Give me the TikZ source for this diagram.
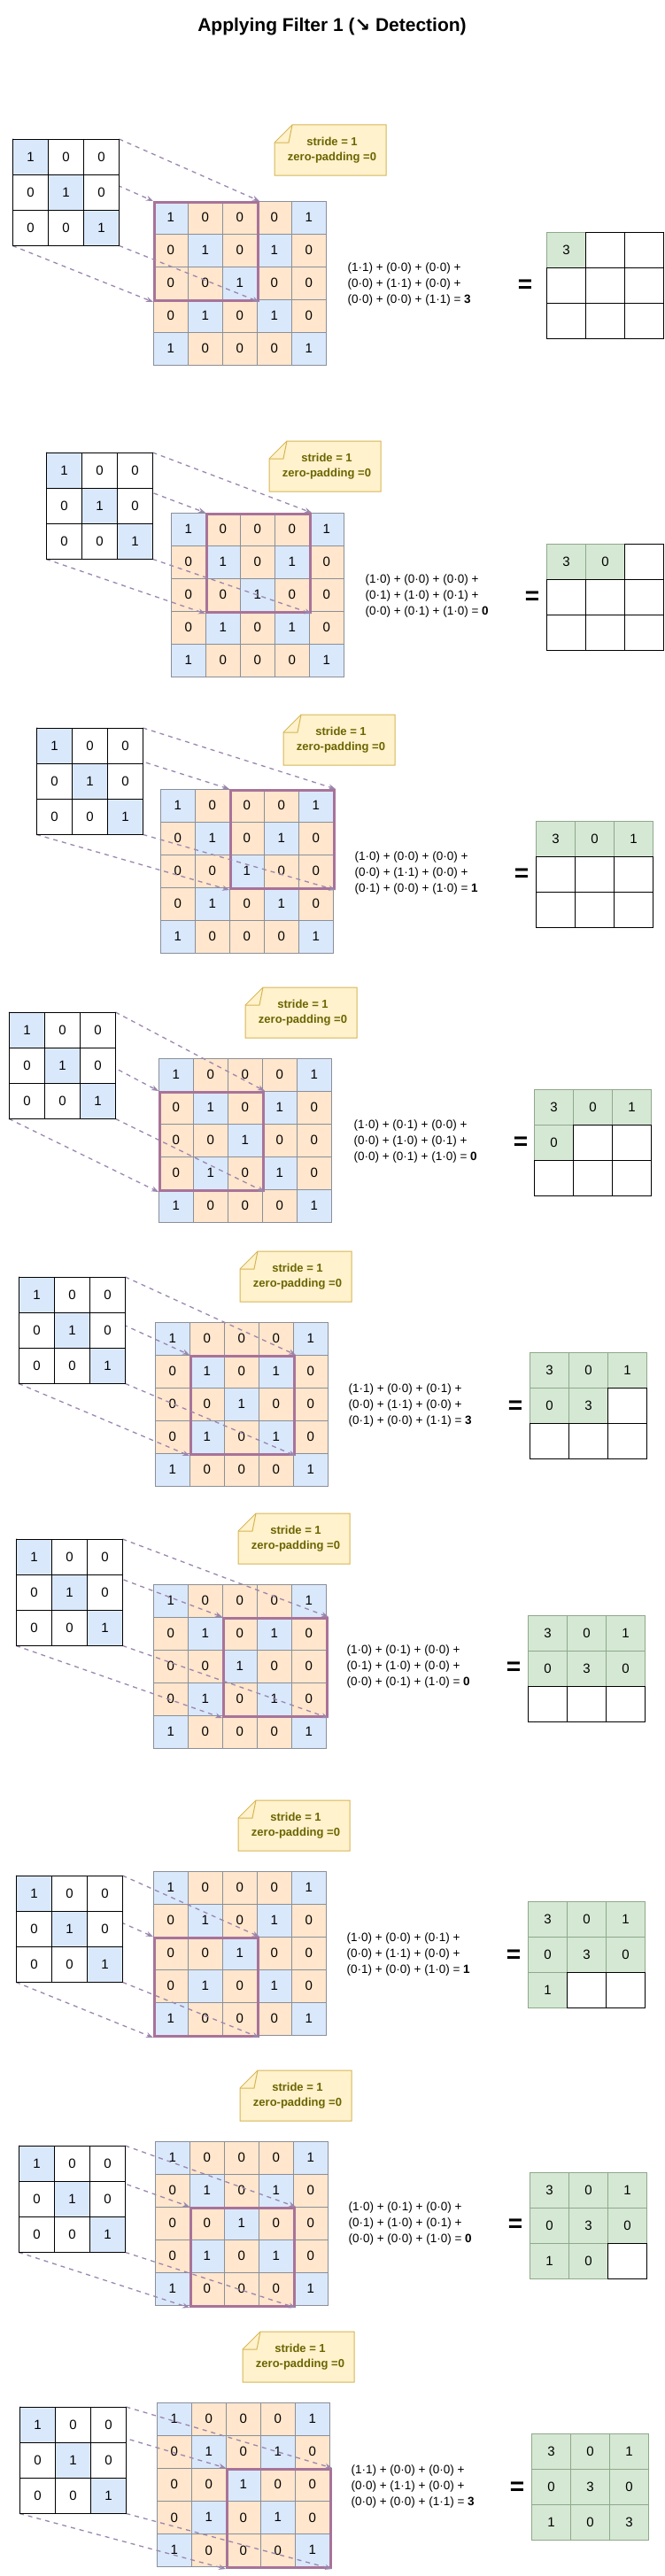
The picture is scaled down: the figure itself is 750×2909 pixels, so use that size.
\documentclass[tikz,border=0pt]{standalone}
\usepackage{fontspec}
\setmainfont{Liberation Sans}
\newfontfamily\arrfont{DejaVu Sans}
\usetikzlibrary{arrows.meta}
\definecolor{cblue}{HTML}{DAE8FC}
\definecolor{corange}{HTML}{FFE6CC}
\definecolor{cgreen}{HTML}{D5E8D4}
\definecolor{cgreenb}{HTML}{8FA88A}
\definecolor{cnote}{HTML}{FFF2CC}
\definecolor{cnoteb}{HTML}{D6B656}
\definecolor{cnotet}{HTML}{6B6400}
\definecolor{cconn}{HTML}{9A87AE}
\definecolor{chl}{HTML}{A87399}
\definecolor{cgrid}{HTML}{8A8F99}
\begin{document}
\begin{tikzpicture}[x=1pt,y=-1pt,
  incell/.style={draw=cgrid, line width=0.6pt, minimum width=39pt, minimum height=37pt, inner sep=0pt, anchor=north west, font=\fontsize{15}{15}\selectfont},
  fcell/.style={draw=black, line width=1pt, minimum width=40pt, minimum height=40pt, inner sep=0pt, anchor=north west, font=\fontsize{15}{15}\selectfont},
  ocell/.style={line width=1pt, minimum width=44pt, minimum height=40pt, inner sep=0pt, anchor=north west, font=\fontsize{15}{15}\selectfont},
  hl/.style={draw=chl, line width=3pt, minimum width=117pt, minimum height=111pt, inner sep=0pt, anchor=north west},
  conn/.style={draw=cconn, line width=1.3pt, dash pattern=on 5pt off 5pt, -{Stealth[length=8pt,width=6pt,fill=cconn!80!black]}},
  note/.style={fill=cnote, draw=cnoteb, line width=1pt},
  notetext/.style={text=cnotet, font=\bfseries\fontsize{13}{17}\selectfont, align=center},
  formula/.style={anchor=west, align=left, font=\fontsize{13.5}{18}\selectfont},
  eq/.style={font=\bfseries\fontsize{28}{28}\selectfont}
]
\useasboundingbox (0,0) rectangle (750,2909);
\node[font=\bfseries\fontsize{21}{21}\selectfont] (title) at (375,30) {Applying Filter 1 ({\arrfont ↘} Detection)};
\foreach \fx/\fy/\ix/\iy/\nx/\ny/\tx/\ty/\ex/\ey/\ox/\oy/\hr/\hc/\n/\fa/\fb/\fc/\res in {
 14/157/173/227/310/141/392/303/583/323/617/262/0/0/1/{(1·1) + (0·0) + (0·0) +}/{(0·0) + (1·1) + (0·0) +}/{(0·0) + (0·0) + (1·1) = }/3,
 52/511/193/579/304/498/412/655/591/675/617/614/0/1/2/{(1·0) + (0·0) + (0·0) +}/{(0·1) + (1·0) + (0·1) +}/{(0·0) + (0·1) + (1·0) = }/0,
 41/822/181/891/320/807/400/968/579/988/605/927/0/2/3/{(1·0) + (0·0) + (0·0) +}/{(0·0) + (1·1) + (0·0) +}/{(0·1) + (0·0) + (1·0) = }/1,
 10/1143/179/1195/277/1115/399/1271/578/1291/603/1230/1/0/4/{(1·0) + (0·1) + (0·0) +}/{(0·0) + (1·0) + (0·1) +}/{(0·0) + (0·1) + (1·0) = }/0,
 21/1442/175/1493/271/1413/393/1569/572/1589/598/1527/1/1/5/{(1·1) + (0·0) + (0·1) +}/{(0·0) + (1·1) + (0·0) +}/{(0·1) + (0·0) + (1·1) = }/3,
 18/1738/173/1789/269/1709/391/1864/570/1884/596/1824/1/2/6/{(1·0) + (0·1) + (0·0) +}/{(0·1) + (1·0) + (0·0) +}/{(0·0) + (0·1) + (1·0) = }/0,
 18/2118/173/2113/269/2033/391/2189/570/2209/596/2147/2/0/7/{(1·0) + (0·0) + (0·1) +}/{(0·0) + (1·1) + (0·0) +}/{(0·1) + (0·0) + (1·0) = }/1,
 21/2423/175/2418/271/2338/393/2493/572/2513/598/2453/2/1/8/{(1·0) + (0·1) + (0·0) +}/{(0·1) + (1·0) + (0·1) +}/{(0·0) + (0·0) + (1·0) = }/0,
 22/2718/177/2713/274/2633/396/2790/574/2810/600/2748/2/2/9/{(1·1) + (0·0) + (0·0) +}/{(0·0) + (1·1) + (0·0) +}/{(0·0) + (0·0) + (1·1) = }/3}
{
  \foreach \r in {0,...,4} \foreach \c in {0,...,4} {
    \pgfmathtruncatemacro\v{or(\r==\c,\r+\c==4)}
    \ifnum\v=1 \def\cf{cblue}\else\def\cf{corange}\fi
    \node[incell, fill=\cf] (i\n-\r\c) at (\ix+39*\c, \iy+37*\r) {\v};
  }
  \node[hl] (h\n) at (\ix+39*\hc, \iy+37*\hr) {};
  \node[minimum width=120pt, minimum height=120pt, inner sep=0pt, anchor=north west] (f\n) at (\fx,\fy) {};
  \foreach \a in {north west,north east,south west,south east}
    \draw[conn] (f\n.\a) -- (h\n.\a);
  \foreach \r in {0,...,2} \foreach \c in {0,...,2} {
    \pgfmathtruncatemacro\v{\r==\c}
    \ifnum\v=1 \def\cf{cblue}\else\def\cf{white}\fi
    \node[fcell, fill=\cf] (k\n-\r\c) at (\fx+40*\c, \fy+40*\r) {\v};
  }
  \draw[note] (\nx+20,\ny) -- (\nx+126,\ny) -- (\nx+126,\ny+57) -- (\nx,\ny+57) -- (\nx,\ny+20) -- cycle;
  \draw[cnoteb, line width=1pt] (\nx,\ny+20) -- (\nx+16,\ny+20) -- (\nx+20,\ny);
  \node[notetext] (nt\n) at (\nx+65,\ny+29) {stride = 1\\zero-padding =0};
  \node[formula] (fm\n) at (\tx-3,\ty+18) {\fa\\\fb\\\fc\textbf{\res}};
  \node[eq] (eq\n) at (\ex+10,\ey) {=};
  \foreach \k/\val in {0/3,1/0,2/1,3/0,4/3,5/0,6/1,7/0,8/3} {
    \pgfmathtruncatemacro\rr{int(\k/3)}
    \pgfmathtruncatemacro\cc{mod(\k,3)}
    \ifnum\k<\n
      \node[ocell, fill=cgreen, draw=cgreenb] (o\n-\k) at (\ox+44*\cc, \oy+40*\rr) {\val};
    \else
      \node[ocell, draw=black, fill=white] (o\n-\k) at (\ox+44*\cc, \oy+40*\rr) {};
    \fi
  }
}
\end{tikzpicture}
\end{document}
